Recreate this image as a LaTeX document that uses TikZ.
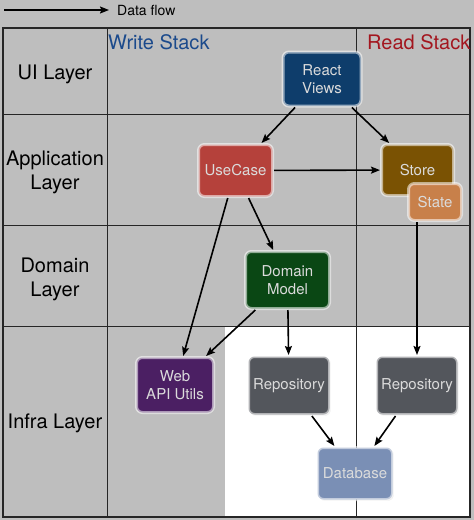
\documentclass[tikz,border=0pt]{standalone}
\usepackage{fontspec}
\setmainfont{TeX Gyre Heros}
\usetikzlibrary{arrows.meta, positioning, shadows}
\definecolor{canvas}{HTML}{BEBEBE}
\definecolor{writeblue}{HTML}{1B4A8C}
\definecolor{readred}{HTML}{A3161F}
\definecolor{reactfill}{HTML}{0E3D6B}
\definecolor{usefill}{HTML}{B5413B}
\definecolor{storefill}{HTML}{7A5203}
\definecolor{statefill}{HTML}{C8804A}
\definecolor{domainfill}{HTML}{0A4714}
\definecolor{webfill}{HTML}{4B1F63}
\definecolor{repofill}{HTML}{53565C}
\definecolor{dbfill}{HTML}{7A8FB5}
\tikzset{
  comp/.style={draw=white, draw opacity=0.55, line width=3pt, rounded corners=6pt,
    text=white!86!black, align=center, font=\fontsize{15}{17.5}\selectfont,
    drop shadow={shadow xshift=1.2pt, shadow yshift=-1.2pt, opacity=0.2}},
  layer/.style={align=center, font=\fontsize{20}{24}\selectfont},
  flow/.style={-{Stealth[length=9pt, width=7pt, inset=1.5pt]}, line width=1.6pt}
}

\begin{document}
\begin{tikzpicture}[x=1pt, y=-1pt]
\useasboundingbox (0,0) rectangle (474,520);
\fill[canvas] (0,0) rectangle (474,520);
\fill[white] (225,326) rectangle (470,517);

% legend
\coordinate (flowstart) at (4,10);
\node[anchor=west, font=\fontsize{14}{16}\selectfont, inner sep=0pt] (legend) at (117,10) {Data flow};
\draw[flow, line width=1.4pt, shorten >=8pt] (flowstart) -- (legend.west);

% grid
\draw[line width=1.2pt, black!85] (3,28) rectangle (470,517);
\foreach \x in {107, 356}
  \draw[line width=1pt, black!85] (\x,28) -- (\x,517);
\foreach \y in {114, 225, 326}
  \draw[line width=1pt, black!85] (3,\y) -- (470,\y);

% layer labels
\node[layer] (uil) at (55,74) {UI Layer};
\node[layer] (appl) at (55,172) {Application\\Layer};
\node[layer] (doml) at (55,279) {Domain\\Layer};
\node[layer] (infl) at (55,423) {Infra Layer};
\node[layer, anchor=base west, inner sep=0pt, text=writeblue] (wstack) at (108,49) {Write Stack};
\node[layer, anchor=base west, inner sep=0pt, text=readred] (rstack) at (367,49) {Read Stack};

% components
\node[comp, fill=reactfill, minimum width=78pt, minimum height=54pt] (react) at (322,79) {React\\Views};
\node[comp, fill=usefill, minimum width=74pt, minimum height=52pt] (usecase) at (235.5,170.5) {UseCase};
\node[comp, fill=storefill, minimum width=72pt, minimum height=51pt] (store) at (417.5,170) {Store};
\node[comp, fill=statefill, minimum width=53pt, minimum height=37pt] (state) at (435,202) {State};
\node[comp, fill=domainfill, minimum width=84pt, minimum height=57pt] (domain) at (287.5,280) {Domain\\Model};
\node[comp, fill=webfill, minimum width=77pt, minimum height=55pt] (webapi) at (175,385) {Web\\API Utils};
\node[comp, fill=repofill, minimum width=81pt, minimum height=58pt] (repow) at (289,385.5) {Repository};
\node[comp, fill=repofill, minimum width=81pt, minimum height=58pt] (repor) at (417,385.5) {Repository};
\node[comp, fill=dbfill, minimum width=75pt, minimum height=52pt] (db) at (355,473.5) {Database};

% data flow
\draw[flow] (react) -- (usecase);
\draw[flow] (react) -- (store);
\draw[flow] (usecase) -- (store);
\draw[flow] (usecase) -- (domain);
\draw[flow] (usecase) -- (webapi);
\draw[flow] (domain) -- (webapi);
\draw[flow] (domain) -- (repow);
\draw[flow] (repor |- state.south) -- (repor);
\draw[flow] (repow) -- (db);
\draw[flow] (repor) -- (db);
\end{tikzpicture}
\end{document}
